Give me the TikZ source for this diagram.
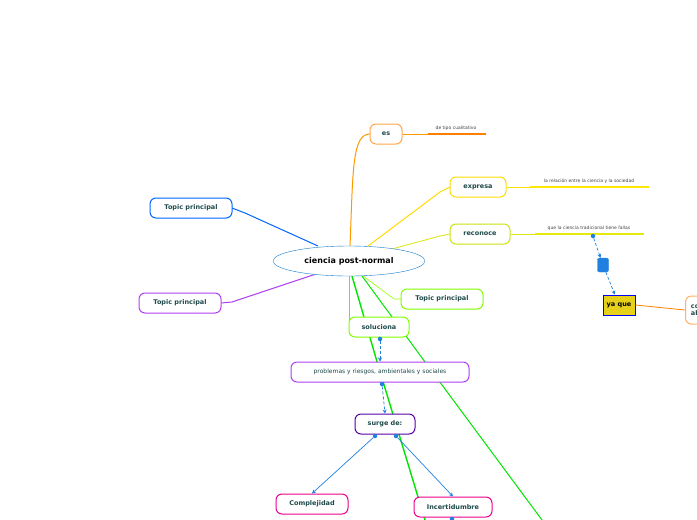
\documentclass[tikz,border=0pt]{standalone}
\usepackage{fontspec}
\setmainfont{DejaVu Sans}
\usetikzlibrary{arrows.meta,shapes.geometric}
\definecolor{txt}{HTML}{1F4A4A}
\definecolor{vio}{HTML}{B040F0}
\definecolor{lnk}{HTML}{2080E0}
\begin{document}
\begin{tikzpicture}[x=1pt,y=-1pt,
  tb/.style={draw,rounded corners=6pt,line width=1pt,fill=white,minimum height=20pt,inner sep=0pt,font=\fontsize{6.5}{7}\selectfont\bfseries,text=txt},
  lbl/.style={font=\fontsize{4.5}{5}\selectfont,text=black!75,inner sep=1pt},
  dconn/.style={draw=lnk,densely dashed,line width=0.7pt,-{Stealth[length=4pt,width=4pt]}},
  sconn/.style={draw=lnk,line width=0.7pt,-{Stealth[length=4pt,width=4pt]}},
  dot/.style={fill=lnk,circle,inner sep=0pt,minimum size=4.5pt}]
\useasboundingbox (0,0) rectangle (697,520);
\begin{scope}
\clip (0,0) rectangle (697,520);
% connectors from center
\draw[orange!80!yellow,line width=1pt] (350,247) .. controls (353,170) and (352,134) .. (370,134);
\draw[yellow!80!orange,line width=1pt] (368,246) -- (440,192) -- (450,187);
\draw[yellow!85!green,line width=0.8pt] (392,249) -- (440,236) -- (450,234);
\draw[blue!60!cyan,line width=1pt] (318,246) -- (245,213) -- (232,208);
\draw[vio,line width=1pt] (316,274) -- (232,302) -- (221,303);
\draw[green!40!yellow,line width=0.6pt] (362,275) -- (394,299) -- (401,299);
\draw[green!70!yellow,line width=1pt] (349,276) -- (349,327);
\draw[green!90!black,line width=1.4pt] (352,276) -- (378,365) -- (425,520);
\draw[green!90!black,line width=1pt] (362,276) -- (425,362) -- (542,520);
% center
\node[ellipse,draw=cyan!60!blue,fill=white,minimum width=152pt,minimum height=30pt,inner sep=0pt,font=\fontsize{8}{9}\selectfont\bfseries] (c) at (349,261) {ciencia post-normal};
\node[tb,draw=orange!70,minimum width=32pt] (es) at (386,134) {es};
\node[tb,draw=yellow!80!orange,minimum width=56pt] (ex) at (478,187) {expresa};
\node[tb,draw=yellow!80!green,minimum width=60pt] (re) at (480,234) {reconoce};
\node[tb,draw=blue!60!cyan,minimum width=82pt] (t1) at (191,208) {Topic principal};
\node[tb,draw=vio,minimum width=82pt] (t2) at (180,303) {Topic principal};
\node[tb,draw=green!50!yellow,minimum width=82pt] (t3) at (442,299) {Topic principal};
\node[tb,draw=green!50!yellow,minimum width=60pt] (so) at (379,327) {soluciona};
\node[tb,draw=vio,minimum width=178pt,font=\fontsize{6}{7}\selectfont] (pr) at (380,372) {problemas y riesgos, ambientales y sociales};
\node[tb,draw=violet!70!blue,minimum width=60pt] (su) at (385,424) {surge de:};
\node[tb,draw=magenta,minimum width=72pt] (co) at (312,504) {Complejidad};
\node[tb,draw=magenta,minimum width=78pt] (in) at (453,507) {Incertidumbre};
% side text
\draw[orange!80!yellow,line width=0.5pt] (es.east) -- (428,134);
\draw[orange,line width=1.2pt] (428,134) -- (486,134);
\node[lbl] (l1) at (456,128) {de tipo cualitativo};
\draw[yellow!80!orange,line width=0.5pt] (ex.east) -- (530,187);
\draw[yellow!90!orange,line width=1.2pt] (530,187) -- (649,187);
\node[lbl] (l2) at (589,181) {la relación entre la ciencia y la sociedad};
\draw[yellow!85!green,line width=0.5pt] (re.east) -- (535,234);
\draw[yellow!90!green,line width=1.2pt] (535,234) -- (644,234);
\node[lbl] (l3) at (589,228) {que la ciencia tradicional tiene fallas};
\node[draw=lnk,fill=lnk,rounded corners=2pt,minimum width=11pt,minimum height=14pt,inner sep=0pt] (bq) at (603,265) {};
\node[draw=blue,fill=yellow!85!orange!90!black,line width=1pt,minimum width=32pt,minimum height=20pt,inner sep=0pt,font=\fontsize{6.5}{7}\selectfont\bfseries] (yq) at (619,305) {ya que};
\node[tb,draw=orange!60,minimum width=40pt,minimum height=28pt,align=left,anchor=west] (cut) at (685,310) {co\\ab\hspace*{20pt}};
\draw[orange,line width=0.8pt] (yq.east) -- (cut.west);
% link dots
\node[dot] (d1) at (593,236) {};
\node[dot] (d2) at (380,339) {};
\node[dot] (d3) at (382,384) {};
\node[dot] (d4) at (375,436) {};
\node[dot] (d5) at (396,436) {};
\node[dot] (d6) at (452,519) {};
\draw[dconn] (d1) -- (bq);
\draw[dconn] (bq) -- (yq);
\draw[dconn] (d2) -- (pr.north);
\draw[dconn] (d3) -- (su.north);
\draw[sconn] (d4) -- (co.north);
\draw[sconn] (d5) -- (in.north);
\end{scope}
\end{tikzpicture}
\end{document}
